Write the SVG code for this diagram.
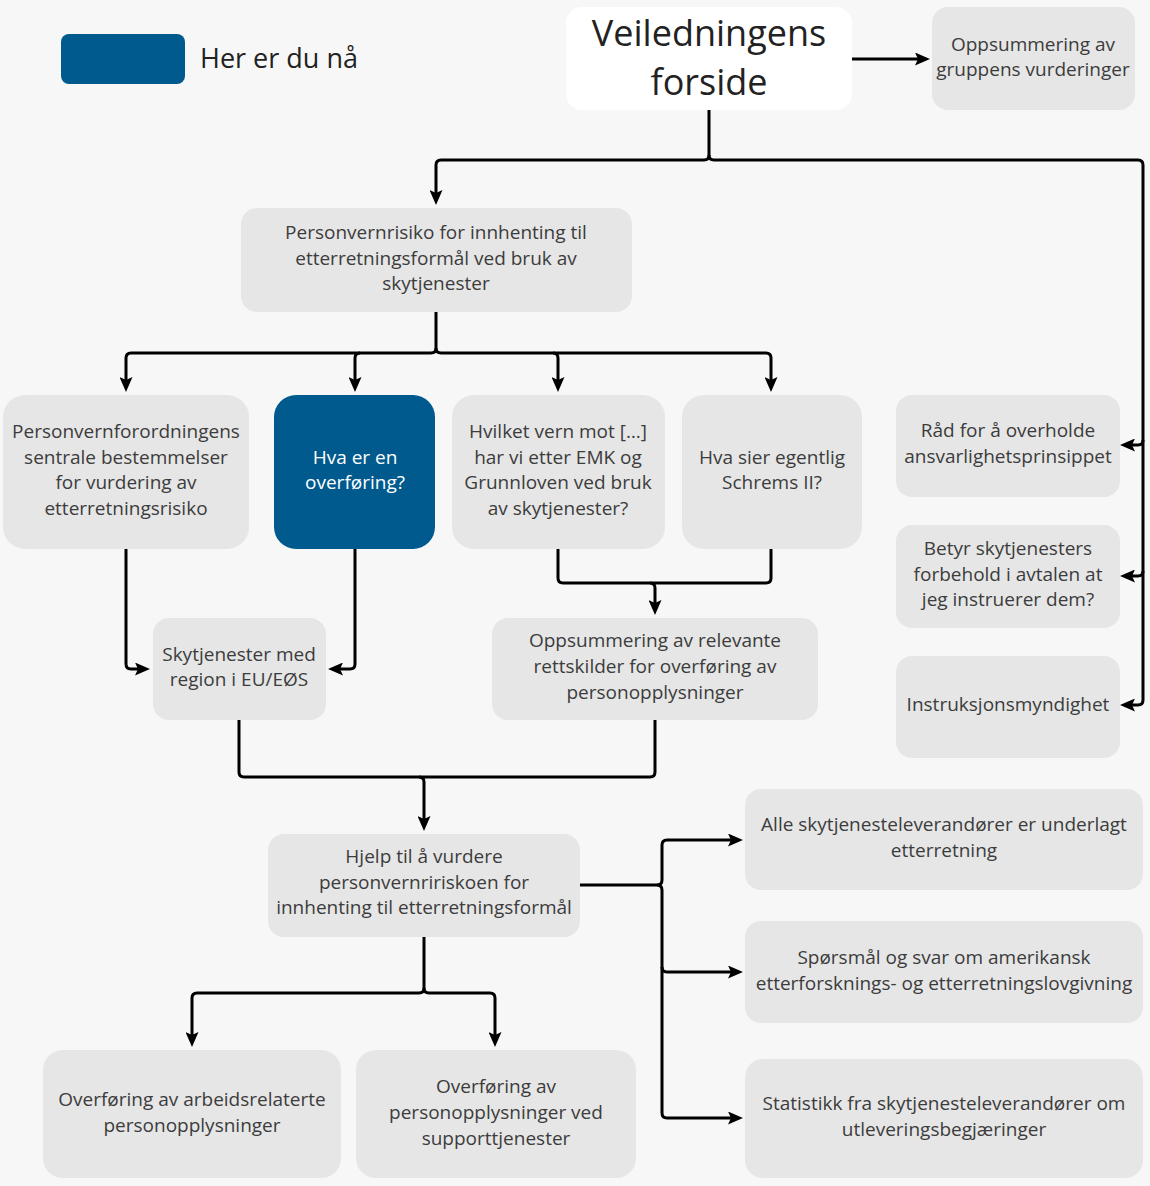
<svg xmlns="http://www.w3.org/2000/svg" width="1150" height="1186" viewBox="0 0 1150 1186">
<style>
.bg{fill:#f7f7f7}
.n{fill:#e6e6e6}
.cur{fill:#005a8e}
.w{fill:#ffffff}
text{font-family:"Open Sans","Noto Sans","Liberation Sans",sans-serif;font-size:19px;fill:#3c3c3c;text-anchor:middle}
.big{font-size:36px;fill:#222}
.leg{font-size:27px;fill:#222;text-anchor:start}
.wt{fill:#ffffff}
.c{fill:none;stroke:#000;stroke-width:3;stroke-linejoin:round}
</style>
<defs>
<marker id="ah" viewBox="0 0 15 13" markerWidth="15" markerHeight="13" refX="3" refY="6.5" orient="auto" markerUnits="userSpaceOnUse">
<path d="M0,0 L15,6.5 L0,13 L3,6.5 Z" fill="#000"/>
</marker>
</defs>
<rect class="bg" x="0" y="0" width="1150" height="1186"/>

<g id="legend">
<rect class="cur" x="61" y="34" width="124" height="50" rx="8"/>
<text class="leg" x="200" y="68">Her er du nå</text>
</g>

<g id="connectors">
<path class="c" d="M852,59 H918" marker-end="url(#ah)"/>
<path class="c" d="M709,110 V155 Q709,160 704,160 H441 Q436,160 436,165 V193" marker-end="url(#ah)"/>
<path class="c" d="M709,155 Q709,160 714,160 H1138 Q1143,160 1143,165 V700 Q1143,705 1138,705 H1132" marker-end="url(#ah)"/>
<path class="c" d="M1143,440 Q1143,445 1138,445 H1132" marker-end="url(#ah)"/>
<path class="c" d="M1143,571 Q1143,576 1138,576 H1132" marker-end="url(#ah)"/>
<path class="c" d="M436,312 V348 Q436,353 431,353 H131 Q126,353 126,358 V380" marker-end="url(#ah)"/>
<path class="c" d="M436,348 Q436,353 441,353 H766 Q771,353 771,358 V380" marker-end="url(#ah)"/>
<path class="c" d="M360,353 Q355,353 355,358 V380" marker-end="url(#ah)"/>
<path class="c" d="M553,353 Q558,353 558,358 V380" marker-end="url(#ah)"/>
<path class="c" d="M126,549 V664 Q126,669 131,669 H138" marker-end="url(#ah)"/>
<path class="c" d="M355,549 V664 Q355,669 350,669 H340" marker-end="url(#ah)"/>
<path class="c" d="M558,549 V578 Q558,583 563,583 H766 Q771,583 771,578 V549"/>
<path class="c" d="M650,583 Q655,583 655,588 V603" marker-end="url(#ah)"/>
<path class="c" d="M239,720 V772 Q239,777 244,777 H650 Q655,777 655,772 V720"/>
<path class="c" d="M419,777 Q424,777 424,782 V819" marker-end="url(#ah)"/>
<path class="c" d="M580,885 H657 Q662,885 662,880 V845 Q662,840 667,840 H731" marker-end="url(#ah)"/>
<path class="c" d="M657,885 Q662,885 662,890 V1113 Q662,1118 667,1118 H731" marker-end="url(#ah)"/>
<path class="c" d="M662,967 Q662,972 667,972 H731" marker-end="url(#ah)"/>
<path class="c" d="M424,937 V988 Q424,993 419,993 H197 Q192,993 192,998 V1035" marker-end="url(#ah)"/>
<path class="c" d="M424,988 Q424,993 429,993 H490 Q495,993 495,998 V1035" marker-end="url(#ah)"/>
</g>

<g id="forside">
<rect class="w" x="566" y="7" width="286" height="103" rx="16"/>
<text class="big" x="709" y="46">Veiledningens</text>
<text class="big" x="709" y="95">forside</text>
</g>

<g id="oppsummering-gruppen">
<rect class="n" x="932" y="7" width="203" height="103" rx="16"/>
<text x="1033" y="51">Oppsummering av</text>
<text x="1033" y="76">gruppens vurderinger</text>
</g>

<g id="personvernrisiko">
<rect class="n" x="241" y="208" width="391" height="104" rx="16"/>
<text x="436" y="239">Personvernrisiko for innhenting til</text>
<text x="436" y="265">etterretningsformål ved bruk av</text>
<text x="436" y="290">skytjenester</text>
</g>

<g id="personvernforordningen">
<rect class="n" x="3" y="395" width="246" height="154" rx="22"/>
<text x="126" y="438">Personvernforordningens</text>
<text x="126" y="464">sentrale bestemmelser</text>
<text x="126" y="489">for vurdering av</text>
<text x="126" y="515">etterretningsrisiko</text>
</g>

<g id="overforing">
<rect class="cur" x="274" y="395" width="161" height="154" rx="22"/>
<text class="wt" x="355" y="464">Hva er en</text>
<text class="wt" x="355" y="489">overføring?</text>
</g>

<g id="hvilket-vern">
<rect class="n" x="452" y="395" width="213" height="154" rx="22"/>
<text x="558" y="438">Hvilket vern mot […]</text>
<text x="558" y="464">har vi etter EMK og</text>
<text x="558" y="489">Grunnloven ved bruk</text>
<text x="558" y="515">av skytjenester?</text>
</g>

<g id="schrems">
<rect class="n" x="682" y="395" width="180" height="154" rx="22"/>
<text x="772" y="464">Hva sier egentlig</text>
<text x="772" y="489">Schrems II?</text>
</g>

<g id="rad">
<rect class="n" x="896" y="395" width="224" height="102" rx="16"/>
<text x="1008" y="437">Råd for å overholde</text>
<text x="1008" y="463">ansvarlighetsprinsippet</text>
</g>

<g id="betyr">
<rect class="n" x="896" y="525" width="224" height="103" rx="16"/>
<text x="1008" y="555">Betyr skytjenesters</text>
<text x="1008" y="581">forbehold i avtalen at</text>
<text x="1008" y="606">jeg instruerer dem?</text>
</g>

<g id="instruksjon">
<rect class="n" x="896" y="656" width="224" height="102" rx="16"/>
<text x="1008" y="711">Instruksjonsmyndighet</text>
</g>

<g id="skytjenester-eu">
<rect class="n" x="153" y="618" width="173" height="102" rx="16"/>
<text x="239" y="661">Skytjenester med</text>
<text x="239" y="686">region i EU/EØS</text>
</g>

<g id="oppsummering-rettskilder">
<rect class="n" x="492" y="618" width="326" height="102" rx="16"/>
<text x="655" y="647">Oppsummering av relevante</text>
<text x="655" y="673">rettskilder for overføring av</text>
<text x="655" y="699">personopplysninger</text>
</g>

<g id="hjelp">
<rect class="n" x="268" y="834" width="312" height="103" rx="16"/>
<text x="424" y="863">Hjelp til å vurdere</text>
<text x="424" y="889">personvernririskoen for</text>
<text x="424" y="914">innhenting til etterretningsformål</text>
</g>

<g id="alle">
<rect class="n" x="745" y="789" width="398" height="101" rx="16"/>
<text x="944" y="831">Alle skytjenesteleverandører er underlagt</text>
<text x="944" y="857">etterretning</text>
</g>

<g id="sporsmal">
<rect class="n" x="745" y="921" width="398" height="102" rx="16"/>
<text x="944" y="964">Spørsmål og svar om amerikansk</text>
<text x="944" y="990">etterforsknings- og etterretningslovgivning</text>
</g>

<g id="statistikk">
<rect class="n" x="745" y="1059" width="398" height="119" rx="18"/>
<text x="944" y="1110">Statistikk fra skytjenesteleverandører om</text>
<text x="944" y="1136">utleveringsbegjæringer</text>
</g>

<g id="arbeidsrelaterte">
<rect class="n" x="43" y="1050" width="298" height="128" rx="20"/>
<text x="192" y="1106">Overføring av arbeidsrelaterte</text>
<text x="192" y="1132">personopplysninger</text>
</g>

<g id="support">
<rect class="n" x="356" y="1050" width="280" height="128" rx="20"/>
<text x="496" y="1093">Overføring av</text>
<text x="496" y="1119">personopplysninger ved</text>
<text x="496" y="1145">supporttjenester</text>
</g>
</svg>
